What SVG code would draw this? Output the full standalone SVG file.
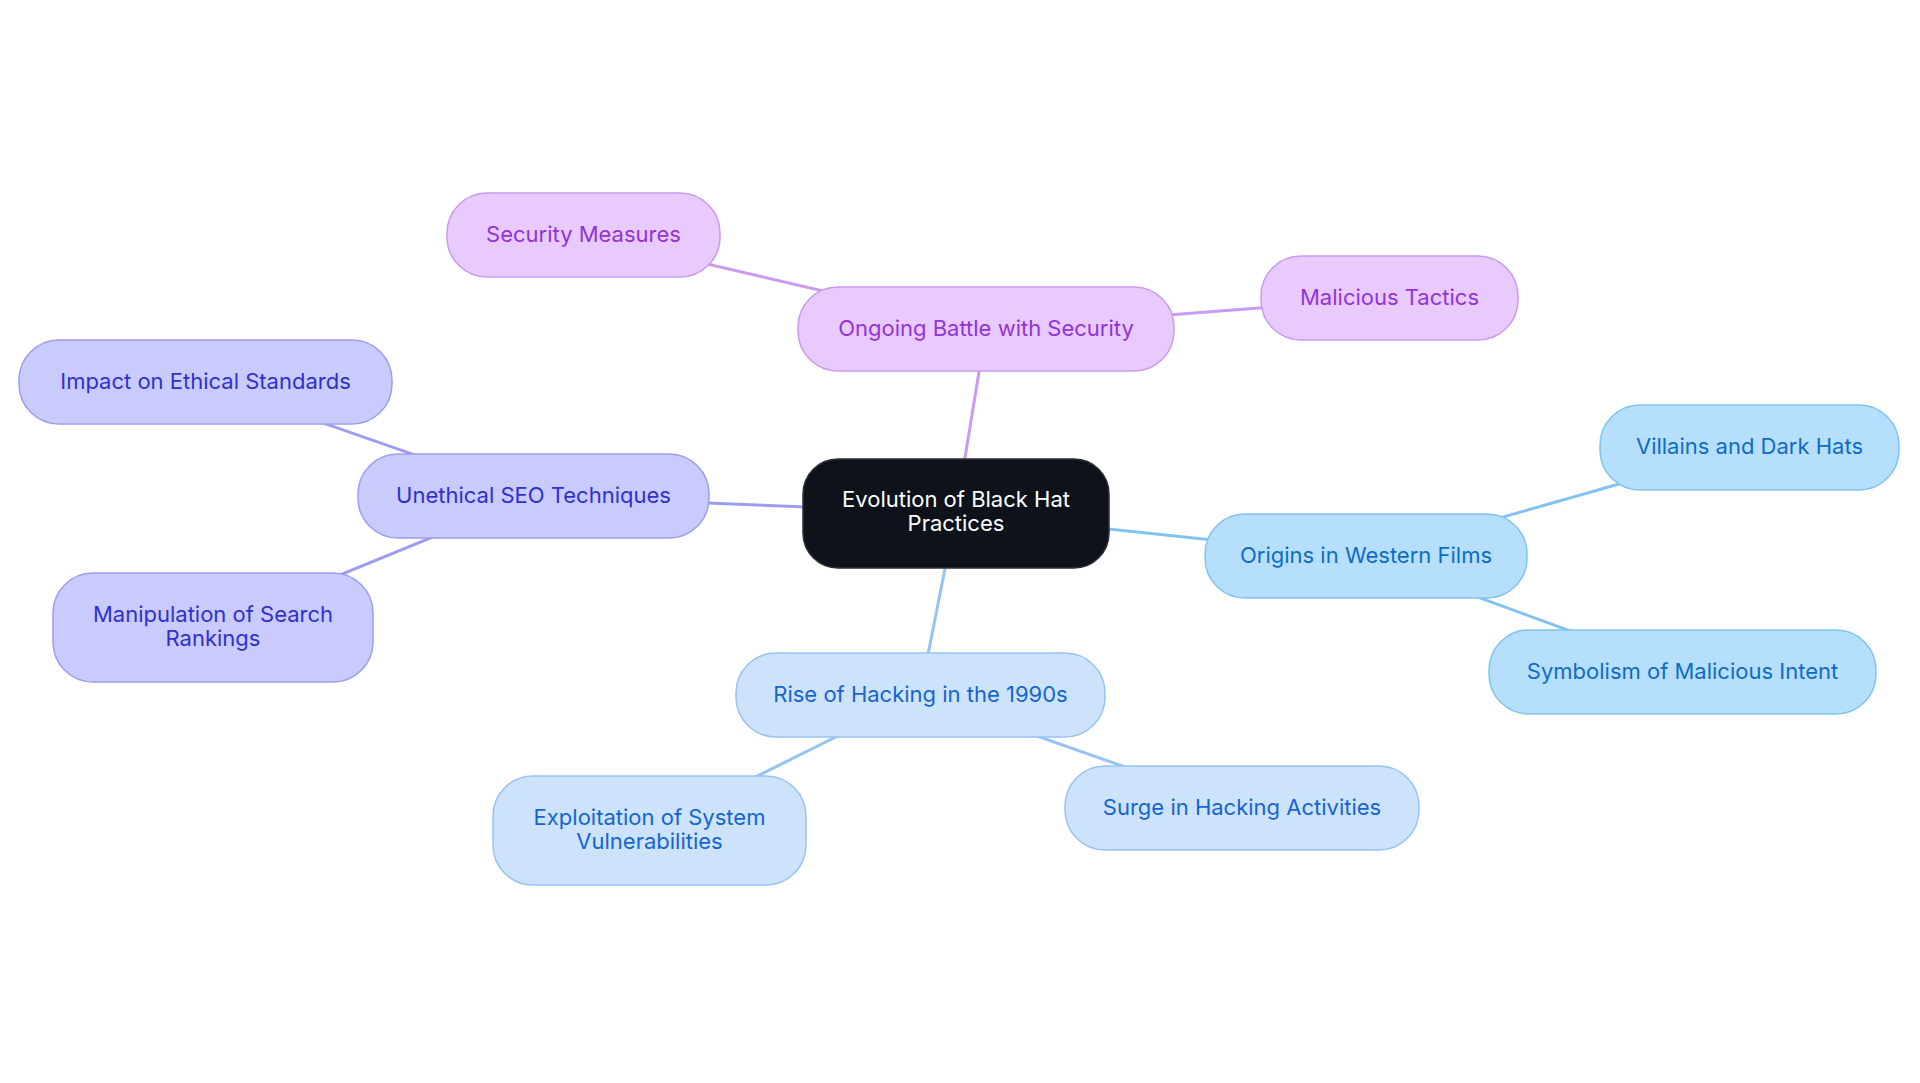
<svg xmlns="http://www.w3.org/2000/svg" width="1920" height="1083" viewBox="0 0 1920 1083">
<style>
text{font-family:Inter,"Noto Sans","Liberation Sans",sans-serif;font-size:22px;text-anchor:middle}
.e{stroke-width:3;fill:none}
.n rect{stroke-width:1.5}
.pu rect{fill:#e8cafe;stroke:#c99af0}.pu text{fill:#9333d6}
.in rect{fill:#c9cbfd;stroke:#9d9df0}.in text{fill:#3030d0}
.lb rect{fill:#b5dffd;stroke:#80c2f0}.lb text{fill:#0f6cc4}
.pb rect{fill:#cde3fb;stroke:#97c3f2}.pb text{fill:#1565d0}
.ce rect{fill:#0d121b;stroke:#2c2f36}.ce text{fill:#ffffff}
</style>
<rect width="1920" height="1083" fill="#ffffff"/>
<g id="connectors">
<line class="e" stroke="#c99af0" x1="956" y1="513" x2="986" y2="329"/>
<line class="e" stroke="#c99af0" x1="986" y1="329" x2="583" y2="235"/>
<line class="e" stroke="#c99af0" x1="986" y1="329" x2="1389" y2="298"/>
<line class="e" stroke="#9d9df0" x1="956" y1="513" x2="533" y2="496"/>
<line class="e" stroke="#9d9df0" x1="533" y1="496" x2="205" y2="382"/>
<line class="e" stroke="#9d9df0" x1="533" y1="496" x2="213" y2="627"/>
<line class="e" stroke="#80c2f0" x1="956" y1="513" x2="1366" y2="556"/>
<line class="e" stroke="#80c2f0" x1="1366" y1="556" x2="1749" y2="447"/>
<line class="e" stroke="#80c2f0" x1="1366" y1="556" x2="1682" y2="672"/>
<line class="e" stroke="#97c3f2" x1="956" y1="513" x2="920" y2="695"/>
<line class="e" stroke="#97c3f2" x1="920" y1="695" x2="649" y2="830"/>
<line class="e" stroke="#97c3f2" x1="920" y1="695" x2="1242" y2="808"/>
</g>
<g id="n-center" class="n ce"><rect x="803" y="459" width="306" height="109" rx="35"/><text x="956" y="507">Evolution of Black Hat</text><text x="956" y="531">Practices</text></g>
<g id="n-ongoing" class="n pu"><rect x="798" y="287" width="376" height="84" rx="40"/><text x="986" y="336">Ongoing Battle with Security</text></g>
<g id="n-security" class="n pu"><rect x="447" y="193" width="273" height="84" rx="40"/><text x="583.5" y="242">Security Measures</text></g>
<g id="n-malicious" class="n pu"><rect x="1261" y="256" width="257" height="84" rx="40"/><text x="1389.5" y="305">Malicious Tactics</text></g>
<g id="n-unethical" class="n in"><rect x="358" y="454" width="351" height="84" rx="40"/><text x="533.5" y="503">Unethical SEO Techniques</text></g>
<g id="n-impact" class="n in"><rect x="19" y="340" width="373" height="84" rx="40"/><text x="205.5" y="389">Impact on Ethical Standards</text></g>
<g id="n-manipulation" class="n in"><rect x="53" y="573" width="320" height="109" rx="40"/><text x="213" y="622">Manipulation of Search</text><text x="213" y="646">Rankings</text></g>
<g id="n-origins" class="n lb"><rect x="1205" y="514" width="322" height="84" rx="40"/><text x="1366" y="563">Origins in Western Films</text></g>
<g id="n-villains" class="n lb"><rect x="1600" y="405" width="299" height="85" rx="40"/><text x="1749.5" y="454">Villains and Dark Hats</text></g>
<g id="n-symbolism" class="n lb"><rect x="1489" y="630" width="387" height="84" rx="40"/><text x="1682.5" y="679">Symbolism of Malicious Intent</text></g>
<g id="n-rise" class="n pb"><rect x="736" y="653" width="369" height="84" rx="40"/><text x="920.5" y="702">Rise of Hacking in the 1990s</text></g>
<g id="n-exploitation" class="n pb"><rect x="493" y="776" width="313" height="109" rx="40"/><text x="649.5" y="825">Exploitation of System</text><text x="649.5" y="849">Vulnerabilities</text></g>
<g id="n-surge" class="n pb"><rect x="1065" y="766" width="354" height="84" rx="40"/><text x="1242" y="815">Surge in Hacking Activities</text></g>
</svg>
